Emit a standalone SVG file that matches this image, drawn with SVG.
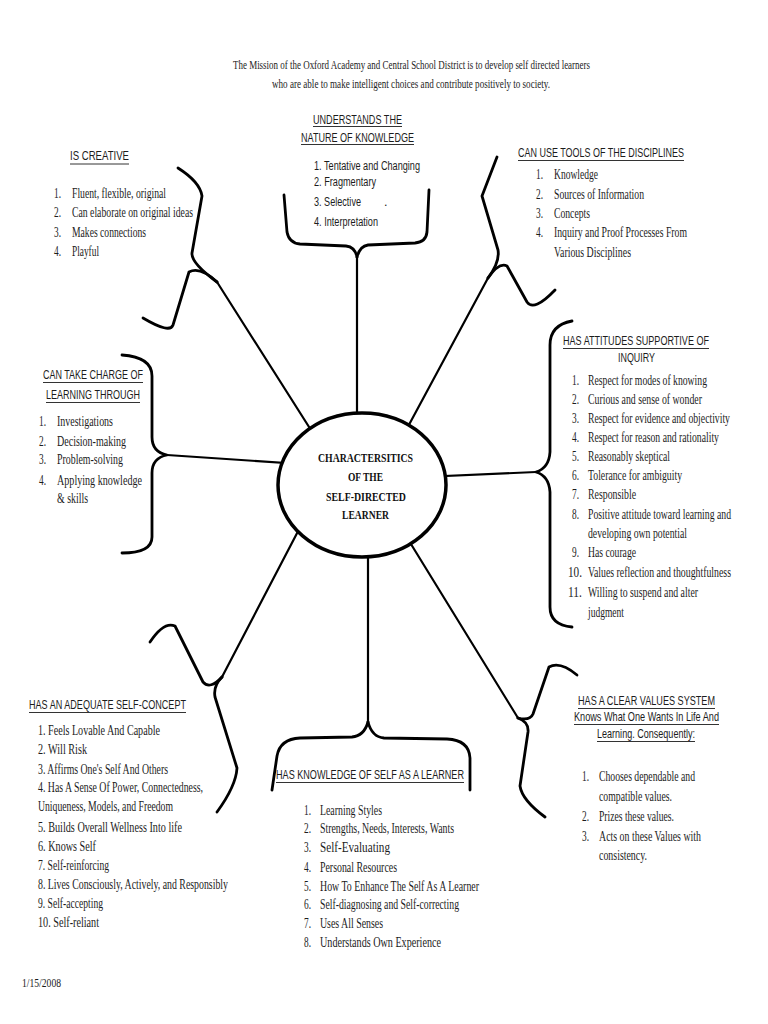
<svg xmlns="http://www.w3.org/2000/svg" width="768" height="1024" viewBox="0 0 768 1024">
<style>
.s{font-family:"Liberation Sans",Arial,sans-serif;font-size:13px;fill:#1c1c1c}
.si{font-family:"Liberation Sans",Arial,sans-serif;font-size:12.5px;fill:#1c1c1c}
.t{font-family:"Liberation Serif","Times New Roman",serif;font-size:14px;fill:#1c1c1c}
.h{font-family:"Liberation Serif","Times New Roman",serif;font-size:12px;fill:#1c1c1c}
.b{font-family:"Liberation Serif","Times New Roman",serif;font-size:13.5px;font-weight:bold;fill:#111}
.u{stroke:#333;stroke-width:1}
.br{fill:none;stroke:#000;stroke-width:2.8;stroke-linecap:round;stroke-linejoin:round}
.c{fill:none;stroke:#000;stroke-width:2.2;stroke-linecap:round}
</style>
<rect width="768" height="1024" fill="#fff"/>

<g id="mission">
<text class="h" x="233" y="69" textLength="357" lengthAdjust="spacingAndGlyphs">The Mission of the Oxford Academy and Central School District is to develop self directed learners</text>
<text class="h" x="272" y="88" textLength="278" lengthAdjust="spacingAndGlyphs">who are able to make intelligent choices and contribute positively to society.</text>
</g>

<g id="connectors">
<line class="c" x1="217" y1="282" x2="330" y2="460"/>
<line class="c" x1="357" y1="257" x2="357" y2="460"/>
<line class="c" x1="488" y1="278" x2="390" y2="460"/>
<line class="c" x1="167" y1="455" x2="330" y2="466"/>
<line class="c" x1="536" y1="472" x2="400" y2="478"/>
<line class="c" x1="222" y1="677" x2="330" y2="470"/>
<line class="c" x1="368" y1="722" x2="368" y2="500"/>
<line class="c" x1="518" y1="718" x2="390" y2="510"/>
</g>

<g id="center">
<ellipse cx="362" cy="485" rx="84" ry="72" fill="#fff" stroke="#000" stroke-width="3.5"/>
<text class="b" x="318" y="462" textLength="95" lengthAdjust="spacingAndGlyphs">CHARACTERSITICS</text>
<text class="b" x="348" y="481" textLength="35" lengthAdjust="spacingAndGlyphs">OF THE</text>
<text class="b" x="326" y="501" textLength="80" lengthAdjust="spacingAndGlyphs">SELF-DIRECTED</text>
<text class="b" x="342" y="519" textLength="47" lengthAdjust="spacingAndGlyphs">LEARNER</text>
</g>

<g id="creative">
<path class="br" d="M178,168 Q200,182 202,196 L192,253 Q191,263 217,282"/>
<path class="br" d="M217,282 Q200,266 189,272 L173,325 Q170,334 143,318"/>
<text class="s" x="70" y="160" textLength="59" lengthAdjust="spacingAndGlyphs">IS CREATIVE</text>
<line class="u" x1="70" y1="164" x2="129" y2="164"/>
<text class="t" x="54" y="198" textLength="7" lengthAdjust="spacingAndGlyphs">1.</text><text class="t" x="72" y="198" textLength="94" lengthAdjust="spacingAndGlyphs">Fluent, flexible, original</text>
<text class="t" x="54" y="217" textLength="7" lengthAdjust="spacingAndGlyphs">2.</text><text class="t" x="72" y="217" textLength="121" lengthAdjust="spacingAndGlyphs">Can elaborate on original ideas</text>
<text class="t" x="54" y="237" textLength="7" lengthAdjust="spacingAndGlyphs">3.</text><text class="t" x="72" y="237" textLength="74" lengthAdjust="spacingAndGlyphs">Makes connections</text>
<text class="t" x="54" y="256" textLength="7" lengthAdjust="spacingAndGlyphs">4.</text><text class="t" x="72" y="256" textLength="27" lengthAdjust="spacingAndGlyphs">Playful</text>
</g>

<g id="knowledge">
<path class="br" d="M284,195 L287,232 Q289,243 300,244 L346,246 Q355,247 357,257"/>
<path class="br" d="M429,190 L427,232 Q426,242 415,243 L368,245 Q360,246 357,257"/>
<text class="s" x="313" y="124" textLength="89" lengthAdjust="spacingAndGlyphs">UNDERSTANDS THE</text>
<line class="u" x1="313" y1="126.5" x2="402" y2="126.5"/>
<text class="s" x="301" y="142" textLength="113" lengthAdjust="spacingAndGlyphs">NATURE OF KNOWLEDGE</text>
<line class="u" x1="301" y1="144.5" x2="414" y2="144.5"/>
<text class="si" x="314" y="170" textLength="106" lengthAdjust="spacingAndGlyphs">1. Tentative and Changing</text>
<text class="si" x="314" y="186" textLength="62" lengthAdjust="spacingAndGlyphs">2. Fragmentary</text>
<text class="si" x="314" y="206" textLength="47" lengthAdjust="spacingAndGlyphs">3. Selective</text>
<text class="si" x="384" y="206">.</text>
<text class="si" x="314" y="226" textLength="64" lengthAdjust="spacingAndGlyphs">4. Interpretation</text>
</g>

<g id="tools">
<path class="br" d="M497,157 L482,196 L498,250 Q500,262 488,278"/>
<path class="br" d="M488,278 Q499,262 507,266 L527,302 Q534,312 555,290"/>
<g transform="translate(518,0) scale(0.72,1)">
<text class="s" x="0" y="157" textLength="230.6" lengthAdjust="spacingAndGlyphs">CAN USE TOOLS OF THE DISCIPLINES</text>
</g>
<line class="u" x1="518" y1="160.5" x2="684" y2="160.5"/>
<text class="t" x="536" y="179" textLength="7" lengthAdjust="spacingAndGlyphs">1.</text><text class="t" x="554" y="179" textLength="44" lengthAdjust="spacingAndGlyphs">Knowledge</text>
<text class="t" x="536" y="199" textLength="7" lengthAdjust="spacingAndGlyphs">2.</text><text class="t" x="554" y="199" textLength="90" lengthAdjust="spacingAndGlyphs">Sources of Information</text>
<text class="t" x="536" y="218" textLength="7" lengthAdjust="spacingAndGlyphs">3.</text><text class="t" x="554" y="218" textLength="36" lengthAdjust="spacingAndGlyphs">Concepts</text>
<text class="t" x="536" y="237" textLength="7" lengthAdjust="spacingAndGlyphs">4.</text>
<g transform="translate(554,0) scale(0.72,1)">
<text class="t" x="0" y="237" textLength="184.7" lengthAdjust="spacingAndGlyphs">Inquiry and Proof Processes From</text>
</g>
<text class="t" x="554" y="257" textLength="77" lengthAdjust="spacingAndGlyphs">Various Disciplines</text>
</g>

<g id="takecharge">
<path class="br" d="M122,355 Q152,357 152,376 L152,437 Q152,452 167,455 Q152,458 152,473 L152,537 Q152,553 122,553"/>
<text class="s" x="43" y="379" textLength="100" lengthAdjust="spacingAndGlyphs">CAN TAKE CHARGE OF</text>
<line class="u" x1="43" y1="382.5" x2="143" y2="382.5"/>
<text class="s" x="46" y="399" textLength="94" lengthAdjust="spacingAndGlyphs">LEARNING THROUGH</text>
<line class="u" x1="46" y1="402.5" x2="140" y2="402.5"/>
<text class="t" x="39" y="426" textLength="7" lengthAdjust="spacingAndGlyphs">1.</text><text class="t" x="57" y="426" textLength="56" lengthAdjust="spacingAndGlyphs">Investigations</text>
<text class="t" x="39" y="446" textLength="7" lengthAdjust="spacingAndGlyphs">2.</text><text class="t" x="57" y="446" textLength="69" lengthAdjust="spacingAndGlyphs">Decision-making</text>
<text class="t" x="39" y="464" textLength="7" lengthAdjust="spacingAndGlyphs">3.</text><text class="t" x="57" y="464" textLength="66" lengthAdjust="spacingAndGlyphs">Problem-solving</text>
<text class="t" x="39" y="485" textLength="7" lengthAdjust="spacingAndGlyphs">4.</text><text class="t" x="57" y="485" textLength="85" lengthAdjust="spacingAndGlyphs">Applying knowledge</text>
<text class="t" x="57" y="503" textLength="31" lengthAdjust="spacingAndGlyphs">&amp; skills</text>
</g>

<g id="attitudes">
<path class="br" d="M572,321 Q550,325 550,345 L550,452 Q549,468 536,472 Q549,476 550,492 L550,607 Q550,625 572,627"/>
<g transform="translate(563,0) scale(0.72,1)">
<text class="s" x="0" y="345" textLength="202.8" lengthAdjust="spacingAndGlyphs">HAS ATTITUDES SUPPORTIVE OF</text>
</g>
<line class="u" x1="563" y1="348.5" x2="709" y2="348.5"/>
<text class="s" x="618" y="362" textLength="37" lengthAdjust="spacingAndGlyphs">INQUIRY</text>
<text class="t" x="572" y="385" textLength="7" lengthAdjust="spacingAndGlyphs">1.</text>
<text class="t" x="572" y="404" textLength="7" lengthAdjust="spacingAndGlyphs">2.</text>
<text class="t" x="572" y="423" textLength="7" lengthAdjust="spacingAndGlyphs">3.</text>
<text class="t" x="572" y="442" textLength="7" lengthAdjust="spacingAndGlyphs">4.</text>
<text class="t" x="572" y="461" textLength="7" lengthAdjust="spacingAndGlyphs">5.</text>
<text class="t" x="572" y="480" textLength="7" lengthAdjust="spacingAndGlyphs">6.</text>
<text class="t" x="572" y="499" textLength="7" lengthAdjust="spacingAndGlyphs">7.</text>
<text class="t" x="572" y="519" textLength="7" lengthAdjust="spacingAndGlyphs">8.</text>
<text class="t" x="572" y="557" textLength="7" lengthAdjust="spacingAndGlyphs">9.</text>
<text class="t" x="568" y="577" textLength="14" lengthAdjust="spacingAndGlyphs">10.</text>
<text class="t" x="568" y="597" textLength="14" lengthAdjust="spacingAndGlyphs">11.</text>
<g transform="translate(588,0) scale(0.72,1)">
<text class="t" x="0" y="385" textLength="165.3" lengthAdjust="spacingAndGlyphs">Respect for modes of knowing</text>
<text class="t" x="0" y="404" textLength="158.3" lengthAdjust="spacingAndGlyphs">Curious and sense of wonder</text>
<text class="t" x="0" y="423" textLength="197.2" lengthAdjust="spacingAndGlyphs">Respect for evidence and objectivity</text>
<text class="t" x="0" y="442" textLength="181.9" lengthAdjust="spacingAndGlyphs">Respect for reason and rationality</text>
<text class="t" x="0" y="461" textLength="113.9" lengthAdjust="spacingAndGlyphs">Reasonably skeptical</text>
<text class="t" x="0" y="480" textLength="130.6" lengthAdjust="spacingAndGlyphs">Tolerance for ambiguity</text>
<text class="t" x="0" y="499" textLength="66.7" lengthAdjust="spacingAndGlyphs">Responsible</text>
<text class="t" x="0" y="519" textLength="198.6" lengthAdjust="spacingAndGlyphs">Positive attitude toward learning and</text>
<text class="t" x="0" y="538" textLength="137.5" lengthAdjust="spacingAndGlyphs">developing own potential</text>
<text class="t" x="0" y="557" textLength="66.7" lengthAdjust="spacingAndGlyphs">Has courage</text>
<text class="t" x="0" y="577" textLength="198.6" lengthAdjust="spacingAndGlyphs">Values reflection and thoughtfulness</text>
<text class="t" x="0" y="597" textLength="152.8" lengthAdjust="spacingAndGlyphs">Willing to suspend and alter</text>
<text class="t" x="0" y="617" textLength="50" lengthAdjust="spacingAndGlyphs">judgment</text>
</g>
</g>

<g id="selfconcept">
<path class="br" d="M150,642 Q164,621 175,626 L203,682 Q210,690 222,677"/>
<path class="br" d="M222,677 Q213,686 215,697 L237,768 Q236,786 217,812"/>
<text class="s" x="29" y="709" textLength="157" lengthAdjust="spacingAndGlyphs">HAS AN ADEQUATE SELF-CONCEPT</text>
<line class="u" x1="29" y1="712.5" x2="186" y2="712.5"/>
<text class="t" x="38" y="735" textLength="122" lengthAdjust="spacingAndGlyphs">1. Feels Lovable And Capable</text>
<text class="t" x="38" y="754" textLength="49" lengthAdjust="spacingAndGlyphs">2. Will Risk</text>
<text class="t" x="38" y="774" textLength="130" lengthAdjust="spacingAndGlyphs">3. Affirms One's Self And Others</text>
<text class="t" x="38" y="792" textLength="165" lengthAdjust="spacingAndGlyphs">4. Has A Sense Of Power, Connectedness,</text>
<text class="t" x="38" y="811" textLength="135" lengthAdjust="spacingAndGlyphs">Uniqueness, Models, and Freedom</text>
<text class="t" x="38" y="832" textLength="144" lengthAdjust="spacingAndGlyphs">5. Builds Overall Wellness Into life</text>
<text class="t" x="38" y="851" textLength="58" lengthAdjust="spacingAndGlyphs">6. Knows Self</text>
<text class="t" x="38" y="870" textLength="71" lengthAdjust="spacingAndGlyphs">7. Self-reinforcing</text>
<g transform="translate(38,0) scale(0.72,1)">
<text class="t" x="0" y="889" textLength="263.9" lengthAdjust="spacingAndGlyphs">8. Lives Consciously, Actively, and Responsibly</text>
</g>
<text class="t" x="38" y="908" textLength="65" lengthAdjust="spacingAndGlyphs">9. Self-accepting</text>
<text class="t" x="38" y="927" textLength="61" lengthAdjust="spacingAndGlyphs">10. Self-reliant</text>
</g>

<g id="selflearner">
<path class="br" d="M272,790 L277,756 Q280,739 300,738 L352,737 Q364,736 368,722"/>
<path class="br" d="M470,790 L470,758 Q469,740 447,739 L384,738 Q372,737 368,722"/>
<text class="s" x="276" y="779" textLength="188" lengthAdjust="spacingAndGlyphs">HAS KNOWLEDGE OF SELF AS A LEARNER</text>
<line class="u" x1="276" y1="782.5" x2="464" y2="782.5"/>
<text class="t" x="304" y="815" textLength="7" lengthAdjust="spacingAndGlyphs">1.</text><text class="t" x="320" y="815" textLength="62" lengthAdjust="spacingAndGlyphs">Learning Styles</text>
<text class="t" x="304" y="833" textLength="7" lengthAdjust="spacingAndGlyphs">2.</text><text class="t" x="320" y="833" textLength="134" lengthAdjust="spacingAndGlyphs">Strengths, Needs, Interests, Wants</text>
<text class="t" x="304" y="852" textLength="7" lengthAdjust="spacingAndGlyphs">3.</text><text class="t" x="320" y="852" textLength="70" lengthAdjust="spacingAndGlyphs">Self-Evaluating</text>
<text class="t" x="304" y="872" textLength="7" lengthAdjust="spacingAndGlyphs">4.</text><text class="t" x="320" y="872" textLength="77" lengthAdjust="spacingAndGlyphs">Personal Resources</text>
<text class="t" x="304" y="891" textLength="7" lengthAdjust="spacingAndGlyphs">5.</text><text class="t" x="320" y="891" textLength="159" lengthAdjust="spacingAndGlyphs">How To Enhance The Self As A Learner</text>
<text class="t" x="304" y="909" textLength="7" lengthAdjust="spacingAndGlyphs">6.</text><text class="t" x="320" y="909" textLength="139" lengthAdjust="spacingAndGlyphs">Self-diagnosing and Self-correcting</text>
<text class="t" x="304" y="928" textLength="7" lengthAdjust="spacingAndGlyphs">7.</text><text class="t" x="320" y="928" textLength="63" lengthAdjust="spacingAndGlyphs">Uses All Senses</text>
<text class="t" x="304" y="947" textLength="7" lengthAdjust="spacingAndGlyphs">8.</text><text class="t" x="320" y="947" textLength="121" lengthAdjust="spacingAndGlyphs">Understands Own Experience</text>
</g>

<g id="values">
<path class="br" d="M577,675 Q560,661 549,667 L533,714 Q530,721 518,718"/>
<path class="br" d="M518,718 Q529,722 528,732 L520,786 Q522,800 545,817"/>
<g transform="translate(578,0) scale(0.72,1)">
<text class="s" x="0" y="705" textLength="190.3" lengthAdjust="spacingAndGlyphs">HAS A CLEAR VALUES SYSTEM</text>
</g>
<line class="u" x1="578" y1="708.5" x2="715" y2="708.5"/>
<g transform="translate(574,0) scale(0.72,1)">
<text class="s" x="0" y="721" textLength="201.4" lengthAdjust="spacingAndGlyphs">Knows What One Wants In Life And</text>
</g>
<line class="u" x1="574" y1="724.5" x2="719" y2="724.5"/>
<text class="s" x="597" y="738" textLength="98" lengthAdjust="spacingAndGlyphs">Learning. Consequently:</text>
<line class="u" x1="597" y1="741.5" x2="695" y2="741.5"/>
<text class="t" x="582" y="781" textLength="7" lengthAdjust="spacingAndGlyphs">1.</text><text class="t" x="599" y="781" textLength="96" lengthAdjust="spacingAndGlyphs">Chooses dependable and</text>
<text class="t" x="599" y="801" textLength="73" lengthAdjust="spacingAndGlyphs">compatible values.</text>
<text class="t" x="582" y="821" textLength="7" lengthAdjust="spacingAndGlyphs">2.</text><text class="t" x="599" y="821" textLength="75" lengthAdjust="spacingAndGlyphs">Prizes these values.</text>
<text class="t" x="582" y="841" textLength="7" lengthAdjust="spacingAndGlyphs">3.</text><text class="t" x="599" y="841" textLength="102" lengthAdjust="spacingAndGlyphs">Acts on these Values with</text>
<text class="t" x="599" y="860" textLength="48" lengthAdjust="spacingAndGlyphs">consistency.</text>
</g>

<g id="date">
<text class="h" x="22" y="987" textLength="39" lengthAdjust="spacingAndGlyphs">1/15/2008</text>
</g>
</svg>
